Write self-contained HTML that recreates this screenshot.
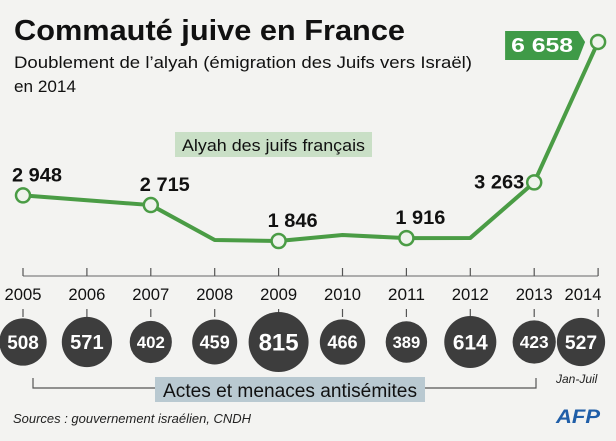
<!DOCTYPE html>
<html><head><meta charset="utf-8"><style>
html,body{margin:0;padding:0;background:#f3f3f1;}
svg{display:block;font-family:"Liberation Sans",sans-serif;}
</style></head><body>
<svg id="chart" width="616" height="441" viewBox="0 0 616 441" xmlns="http://www.w3.org/2000/svg">
<rect width="616" height="441" fill="#f3f3f1"/>
<text x="14" y="40" font-size="29" font-weight="bold" fill="#111" textLength="391" lengthAdjust="spacingAndGlyphs">Commauté juive en France</text>
<text x="14" y="68" font-size="17" fill="#111" textLength="458" lengthAdjust="spacingAndGlyphs">Doublement de l’alyah (émigration des Juifs vers Israël)</text>
<text x="14" y="92" font-size="17" fill="#111" textLength="62" lengthAdjust="spacingAndGlyphs">en 2014</text>
<rect x="175" y="132" width="197" height="25" fill="#c9dfc6"/>
<text x="182" y="151" font-size="17" fill="#111" textLength="183" lengthAdjust="spacingAndGlyphs">Alyah des juifs français</text>
<g id="axis"></g>
<g id="line"></g>
<g id="bubbles"></g>
<path d="M33 378 V388 H536 V378" fill="none" stroke="#555" stroke-width="1.2"/>
<rect x="155" y="377" width="270" height="25" fill="#b9c9d1"/>
<text x="163" y="397" font-size="19" fill="#111" textLength="254" lengthAdjust="spacingAndGlyphs">Actes et menaces antisémites</text>
<text x="556" y="383" font-size="12" font-style="italic" fill="#222">Jan-Juil</text>
<text x="13" y="423" font-size="13" font-style="italic" fill="#222" textLength="238" lengthAdjust="spacingAndGlyphs">Sources :  gouvernement israélien, CNDH</text>
<text x="556" y="423" font-size="19" font-weight="bold" font-style="italic" fill="#1f5ea8" textLength="44" lengthAdjust="spacingAndGlyphs">AFP</text>
</svg>
<script>
const years = ["2005","2006","2007","2008","2009","2010","2011","2012","2013","2014"];
const alyah = [2948, 2830, 2715, 1870, 1846, 1990, 1916, 1920, 3263, 6658];
const alyahLabels = ["2 948", null, "2 715", null, "1 846", null, "1 916", null, "3 263", "6 658"];
const acts = [508, 571, 402, 459, 815, 466, 389, 614, 423, 527];
const actsLabels = ["508","571","402","459","815","466","389","614","423","527"];

const NS = "http://www.w3.org/2000/svg";
const xS = i => 23 + i * 63.9;
const yS = v => 241 - (v - 1846) * 0.04136;
const rS = v => 30 * Math.sqrt(v / 815);
function mk(tag, attrs, parent, text) {
  const e = document.createElementNS(NS, tag);
  for (const k in attrs) e.setAttribute(k, attrs[k]);
  if (text != null) e.textContent = text;
  parent.appendChild(e);
  return e;
}
const axis = document.getElementById('axis');
const bl = mk('line', {x1: xS(0), x2: xS(9), y1: 276, y2: 276, stroke: '#666', 'stroke-width': 1}, axis);


years.forEach((y, i) => {
  const t = mk('line', {x1: xS(i), x2: xS(i), y1: 268, y2: 276, stroke: '#555', 'stroke-width': 1.2}, axis);
  
  
  const t2 = mk('line', {x1: xS(i), x2: xS(i), y1: 309, y2: 317, stroke: '#555', 'stroke-width': 1.2}, axis);
  
  
  const lx = i === 9 ? 583 : xS(i);
  const lb = mk('text', {x: lx, y: 300, 'font-size': 17, 'text-anchor': 'middle', fill: '#111', textLength: 37, lengthAdjust: 'spacingAndGlyphs'}, axis, y);
  
  
});
const lg = document.getElementById('line');
const pts = alyah.map((v, i) => xS(i) + ',' + yS(v)).join(' ');
const pl = mk('polyline', {points: pts, fill: 'none', stroke: '#4a9c45', 'stroke-width': 4, 'stroke-linejoin': 'round'}, lg);


alyah.forEach((v, i) => {
  if (alyahLabels[i] == null) return;
  const x = xS(i), y = yS(v);
  const c = mk('circle', {cx: x, cy: y, r: 7, fill: '#eef3ec', stroke: '#4a9c45', 'stroke-width': 2.5}, lg);
  
  
  let lx = x + 14, ly = y - 14, anchor = 'middle';
  if (i === 8) { lx = x - 10; ly = y + 6; anchor = 'end'; }
  if (i === 9) {
    const box = mk('path', {d: `M${x-93} ${y-11} H${x-20} L${x-13} ${y} L${x-20} ${y+18} H${x-93} Z`, fill: '#3f9a47'}, lg);
    
    
    const pt = mk('text', {x: x - 56, y: y + 10, 'font-size': 20, 'font-weight': 'bold', fill: '#fff', 'text-anchor': 'middle', textLength: 62, lengthAdjust: 'spacingAndGlyphs'}, lg, alyahLabels[i]);
    
    
    return;
  }
  const t = mk('text', {x: lx, y: ly, 'font-size': 19, 'font-weight': 'bold', fill: '#111', 'text-anchor': anchor, textLength: 50, lengthAdjust: 'spacingAndGlyphs'}, lg, alyahLabels[i]);
  
  
});
const bg = document.getElementById('bubbles');
acts.forEach((v, i) => {
  const x = i === 9 ? 581 : xS(i);
  const r = rS(v);
  const c = mk('circle', {cx: x, cy: 342, r: r, fill: '#3d3d3d'}, bg);
  
  
  const fs = Math.max(15, r * 0.8);
  const t = mk('text', {x: x, y: 342 + fs * 0.36, 'font-size': fs, 'font-weight': 'bold', fill: '#fff', 'text-anchor': 'middle'}, bg, actsLabels[i]);
  
  
});
</script>
</body></html>
